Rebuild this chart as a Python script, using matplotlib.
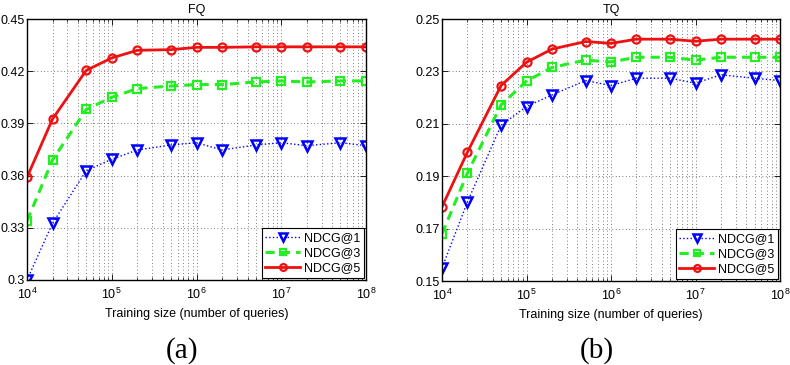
import matplotlib
matplotlib.use("Agg")
import matplotlib.pyplot as plt
from matplotlib.ticker import LogLocator, NullFormatter

plt.rcParams['font.family'] = ['Liberation Sans', 'DejaVu Sans']
plt.rcParams['mathtext.fontset'] = 'custom'
plt.rcParams['mathtext.rm'] = 'Liberation Sans'

sizes = [1e4, 2e4, 5e4, 1e5, 2e5, 5e5, 1e6, 2e6, 5e6, 1e7, 2e7, 5e7, 1e8]

fq_ndcg1 = [0.300, 0.3326, 0.3628, 0.3694, 0.3747, 0.3776, 0.3789, 0.3747, 0.3776, 0.3789, 0.3772, 0.3789, 0.3772]
fq_ndcg3 = [0.3339, 0.369, 0.398, 0.405, 0.410, 0.4115, 0.4123, 0.4123, 0.4138, 0.4144, 0.4138, 0.4144, 0.4144]
fq_ndcg5 = [0.359, 0.3925, 0.4205, 0.4276, 0.432, 0.4324, 0.4337, 0.4337, 0.434, 0.434, 0.434, 0.434, 0.434]

tq_ndcg1 = [0.155, 0.1802, 0.2094, 0.2166, 0.2210, 0.2265, 0.2246, 0.2274, 0.2274, 0.2255, 0.2287, 0.2274, 0.2265]
tq_ndcg3 = [0.168, 0.1912, 0.2172, 0.2263, 0.2315, 0.2343, 0.2336, 0.2354, 0.2354, 0.2343, 0.2354, 0.2354, 0.2354]
tq_ndcg5 = [0.1783, 0.1992, 0.2246, 0.2335, 0.2385, 0.2414, 0.2407, 0.2423, 0.2423, 0.2415, 0.2423, 0.2423, 0.2423]

fq_yticks = [0.30, 0.33, 0.36, 0.39, 0.42, 0.45]
fq_ylabels = ['0.3', '0.33', '0.36', '0.39', '0.42', '0.45']
tq_yticks = [0.15, 0.17, 0.19, 0.21, 0.23, 0.25]
tq_ylabels = ['0.15', '0.17', '0.19', '0.21', '0.23', '0.25']
xticks = [1e4, 1e5, 1e6, 1e7, 1e8]
xlabels = ['$10^4$', '$10^5$', '$10^6$', '$10^7$', '$10^8$']

series_labels = ['NDCG@1', 'NDCG@3', 'NDCG@5']

W, H = 790, 365
fig = plt.figure(figsize=(W / 100, H / 100), dpi=100)

def make_ax(left_px, right_px, top_px, bottom_px):
    return fig.add_axes([left_px / W, 1 - bottom_px / H,
                         (right_px - left_px) / W, (bottom_px - top_px) / H])

ax1 = make_ax(27, 366, 19, 280)
ax2 = make_ax(442, 780, 19, 281)

styles = [
    dict(color='#0000ff', linestyle=':', linewidth=1.0, marker='v', markersize=6.5,
         markerfacecolor='none', markeredgewidth=1.8),
    dict(color='#22ee22', linestyle='--', linewidth=2.2, marker='s', markersize=5.5,
         markerfacecolor='none', markeredgewidth=1.6, dashes=(3, 2)),
    dict(color='#ee1111', linestyle='-', linewidth=2.0, marker='o', markersize=5.8,
         markerfacecolor='none', markeredgewidth=1.6),
]

fs = 9

def setup(ax, data, yticks, ylabels, ylim, title, panel, panel_x):
    for vals, st, lab in zip(data, styles, series_labels):
        ax.plot(sizes, vals, label=lab, clip_on=True, **st)
    ax.set_xscale('log')
    ax.set_xlim(1e4, 1e8)
    ax.set_ylim(*ylim)
    ax.set_yticks(yticks)
    ax.set_yticklabels(ylabels, fontsize=fs)
    ax.set_xticks(xticks)
    ax.set_xticklabels(xlabels, fontsize=fs)
    ax.xaxis.set_minor_locator(LogLocator(base=10, subs=range(2, 10), numticks=20))
    ax.xaxis.set_minor_formatter(NullFormatter())
    ax.tick_params(which='both', direction='in', top=True, right=True)
    ax.tick_params(axis='y', pad=1.5)
    ax.tick_params(axis='x', pad=5)
    ax.tick_params(which='major', length=4, width=0.6)
    ax.tick_params(which='minor', length=2, width=0.5)
    ax.grid(True, which='major', axis='both', linestyle=(0, (1, 3)), color='#555555', linewidth=0.6)
    ax.grid(True, which='minor', axis='x', linestyle=(0, (1, 3)), color='#555555', linewidth=0.6)
    for s in ax.spines.values():
        s.set_linewidth(1.0)
    ax.set_title(title, fontsize=fs, pad=4)
    ax.set_xlabel('Training size (number of queries)', fontsize=fs, labelpad=4)
    leg = ax.legend(loc='lower right', fontsize=fs, fancybox=False, framealpha=1,
                    edgecolor='black', handlelength=2.8, borderaxespad=0.15,
                    labelspacing=0.25, handletextpad=0.3, borderpad=0.3,
                    markerscale=0.85)
    leg.get_frame().set_linewidth(0.8)
    fig.text(panel_x / W, 1 - 358 / H, panel, ha='center', va='baseline',
             fontsize=21, family=['Liberation Serif', 'DejaVu Serif'])

setup(ax1, [fq_ndcg1, fq_ndcg3, fq_ndcg5], fq_yticks, fq_ylabels, (0.30, 0.45), 'FQ', '(a)', 182)
setup(ax2, [tq_ndcg1, tq_ndcg3, tq_ndcg5], tq_yticks, tq_ylabels, (0.15, 0.25), 'TQ', '(b)', 597)

fig.savefig('out.png', dpi=100)
